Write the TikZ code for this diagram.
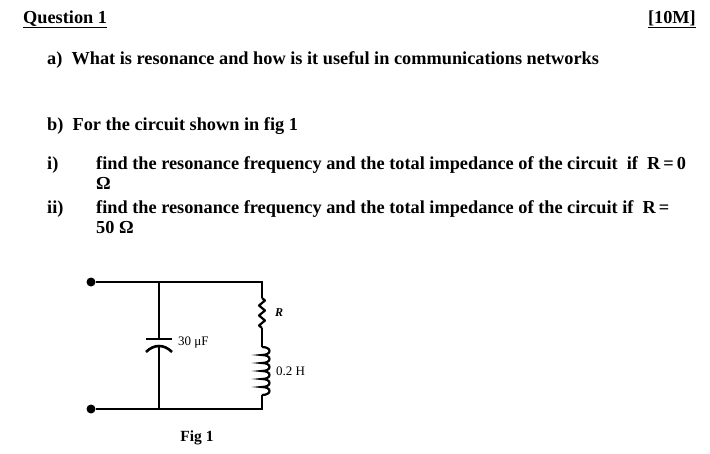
\documentclass[tikz,border=0pt]{standalone}
\usepackage{fontspec}
\setmainfont{Liberation Serif}
\usetikzlibrary{calc}
\begin{document}
\begin{tikzpicture}[x=1pt,y=-1pt,
  txt/.style={anchor=base west,inner sep=0pt,font=\bfseries\fontsize{18.3}{21}\selectfont},
  small/.style={anchor=west,inner sep=0pt,font=\fontsize{13}{15}\selectfont},
  wire/.style={line width=2.6pt},
  dot/.style={circle,fill=black,inner sep=0pt,minimum size=9pt}]
\useasboundingbox (0,0) rectangle (710,453);
\node[txt] (q) at (23,23) {\underline{Question 1}};
\node[txt,anchor=base east] (m) at (696,23) {\underline{[10M]}};
\node[txt] (a) at (47,64) {a)\ \ What is resonance and how is it useful in communications networks};
\node[txt] (b) at (47,130) {b)\ \ For the circuit shown in fig 1};
\node[txt] (i) at (47,169) {i)};
\node[txt] (it) at (96,169) {find the resonance frequency and the total impedance of the circuit\ \ if\ \ R\,=\,0};
\node[txt] (io) at (96,189) {Ω};
\node[txt] (ii) at (47,213) {ii)};
\node[txt] (iit) at (96,213) {find the resonance frequency and the total impedance of the circuit if\ \ R\,=};
\node[txt] (iio) at (96,233) {50 Ω};
% circuit
\node[dot] (t1) at (91,282) {};
\node[dot] (t2) at (91,409) {};
\coordinate (ct) at (159,282);
\coordinate (cb) at (159,409);
\coordinate (rt) at (262,282);
\coordinate (rb) at (262,409);
\coordinate (c1) at (159,339);
\coordinate (c2) at (159,345);
\coordinate (r1) at (262,298);
\coordinate (r2) at (262,328);
\coordinate (l1) at (262,347);
\coordinate (l2) at (262,395);
\draw[wire] (t1) -- (rt) -- (r1);
\draw[wire] (t2) -- (rb) -- (l2);
\draw[wire] (ct) -- (c1);
\draw[wire] (c2) -- (cb);
\draw[wire] (r2) -- (l1);
\draw[wire] ($(c1)+(-13,0)$) -- ($(c1)+(13,0)$);
\draw[wire] ($(c2)+(-13,7)$) .. controls ($(c2)+(-5,-1)$) and ($(c2)+(5,-1)$) .. ($(c2)+(13,7)$);
\draw[line width=2.2pt,line join=round] (r1) -- ++(3,2.5) -- ++(-6,5) -- ++(6,5) -- ++(-6,5) -- ++(6,5) -- ++(-6,5) -- (r2);
\draw[line width=2.2pt] (l1)
  .. controls +(10,0) and +(10,0) .. ++(0,8)
  .. controls +(10,0) and +(10,0) .. ++(0,8)
  .. controls +(10,0) and +(10,0) .. ++(0,8)
  .. controls +(10,0) and +(10,0) .. ++(0,8)
  .. controls +(10,0) and +(10,0) .. ++(0,8)
  .. controls +(10,0) and +(10,0) .. (l2);
\node[small,font=\bfseries\itshape\fontsize{12}{14}\selectfont] (rl) at (275,313) {R};
\node[small] (cl) at (178,343) {30 μF};
\node[small] (ll) at (276,371) {0.2 H};
\node[txt,anchor=base,font=\bfseries\fontsize{15.5}{18}\selectfont] (f) at (197,441) {Fig 1};
\end{tikzpicture}
\end{document}
